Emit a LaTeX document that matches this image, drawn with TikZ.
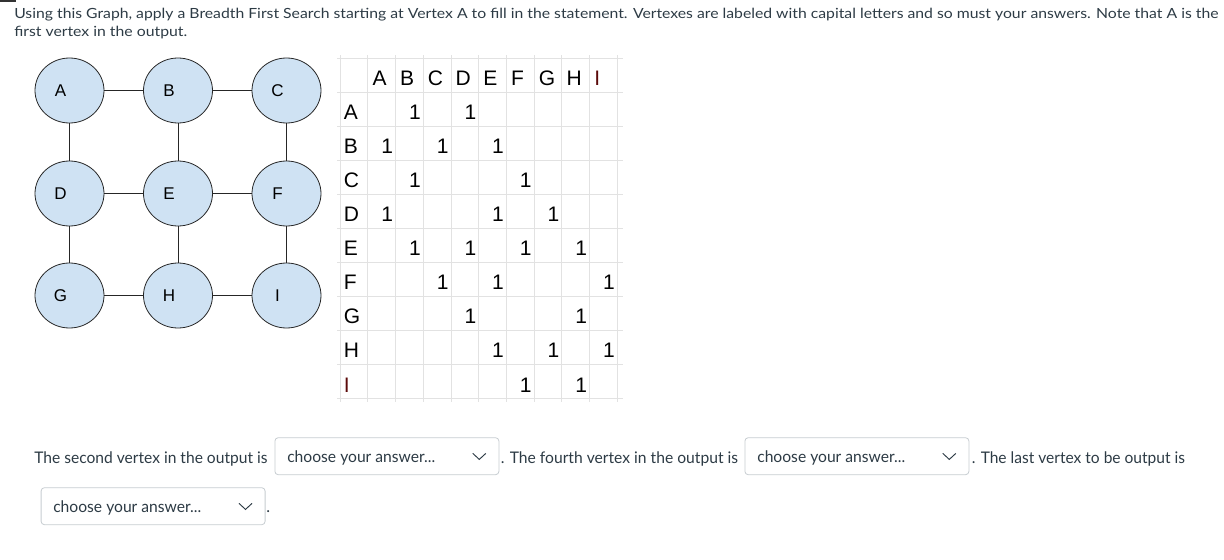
\documentclass[tikz,border=0pt]{standalone}
\usepackage{fontspec}
\setmainfont{Lato}
\newfontfamily\arial{Liberation Sans}
\usetikzlibrary{shapes.geometric}
\definecolor{txt}{HTML}{2D3B45}
\definecolor{nodefill}{HTML}{CFE2F3}
\definecolor{gridc}{HTML}{E2E2E2}
\definecolor{boxc}{HTML}{C7CDD1}
\definecolor{idark}{HTML}{5B0A0A}
\newcommand{\fitw}[2]{\resizebox{#1}{\height}{#2}}
\begin{document}
\begin{tikzpicture}[x=0.75pt,y=-0.75pt,
  vert/.style={ellipse, draw=black!85, line width=0.6pt, fill=nodefill,
    minimum width=51.75pt, minimum height=48.75pt, inner sep=0pt},
  vlab/.style={font=\arial\fontsize{12.75pt}{13pt}\selectfont, xshift=-6.75pt},
  edge/.style={draw=black!85, line width=0.6pt},
  gridline/.style={draw=gridc, line width=0.6pt},
  mtx/.style={font=\arial\fontsize{15.75pt}{16pt}\selectfont, inner sep=0pt, text=black},
  toptext/.style={font=\fontsize{10.5pt}{12pt}\selectfont, text=txt, inner sep=0pt, anchor=base west},
  bottext/.style={font=\fontsize{12pt}{14pt}\selectfont, text=txt, inner sep=0pt, anchor=base west},
  ddbox/.style={draw=boxc, line width=0.6pt, rounded corners=2.5pt, fill=white,
    minimum width=168pt, minimum height=27.75pt, inner sep=0pt, anchor=north west},
  chev/.style={draw=txt, line width=0.7pt}
]
\path[use as bounding box] (0,0) rectangle (1224,560);
\fill[black!80] (0,0) rectangle (16,1.7);

% question text
\node[toptext] (q1) at (14,19) {\fitw{903pt}{Using this Graph, apply a Breadth First Search starting at Vertex A to fill in the statement. Vertexes are labeled with capital letters and so must your answers. Note that A is the}};
\node[toptext] (q2) at (14,37) {\fitw{129.75pt}{first vertex in the output.}};

% graph
\node[vert, label={[vlab]center:A}] (A) at (69.5,90.5) {};
\node[vert, label={[vlab]center:B}] (B) at (178,90.5) {};
\node[vert, label={[vlab]center:C}] (C) at (286.5,90.5) {};
\node[vert, label={[vlab]center:D}] (D) at (69.5,193.5) {};
\node[vert, label={[vlab]center:E}] (E) at (178,193.5) {};
\node[vert, label={[vlab]center:F}] (F) at (286.5,193.5) {};
\node[vert, label={[vlab]center:G}] (G) at (69.5,295.5) {};
\node[vert, label={[vlab]center:H}] (H) at (178,295.5) {};
\node[vert, label={[vlab]center:I}] (I) at (286.5,295.5) {};
\foreach \a/\b in {A/B,B/C,D/E,E/F,G/H,H/I,A/D,D/G,B/E,E/H,C/F,F/I}
  \draw[edge] (\a) -- (\b);

% matrix grid
\foreach \j in {0,...,10}
  \draw[gridline] ({340+27.73*\j},55) -- ({340+27.73*\j},402);
\foreach \k in {0,...,10}
  \draw[gridline] (337,{58+34.05*\k}) -- (623,{58+34.05*\k});
% header and row labels
\foreach \l [count=\j] in {A,B,C,D,E,F,G,H,I}{
  \ifnum\j=9 \def\tc{idark}\else\def\tc{black}\fi
  \node[mtx, anchor=base west, text=\tc] (h\j) at ({340+27.73*\j+4.5}, {58+34.05-6.5}) {\l};
  \node[mtx, anchor=base west, text=\tc] (r\j) at (343.5, {58+34.05*(\j+1)-6.5}) {\l};
}
% ones
\foreach \r/\c in {1/2,1/4, 2/1,2/3,2/5, 3/2,3/6, 4/1,4/5,4/7, 5/2,5/4,5/6,5/8,
  6/3,6/5,6/9, 7/4,7/8, 8/5,8/7,8/9, 9/6,9/8}
  \node[mtx, anchor=base east] (m\r-\c) at ({340+27.73*(\c+1)-2.2}, {58+34.05*(\r+1)-6.5}) {1};

% statement with dropdowns
\node[bottext] (s1) at (34,463) {\fitw{175pt}{The second vertex in the output is}};
\node[ddbox] (dd1) at (274.5,437.3) {};
\node[bottext] (t1) at (287,462.5) {\fitw{111pt}{choose your answer...}};
\draw[chev] ([shift={(-26.5,-2.8)}]dd1.east) -- ++(6.5,6) -- ++(6.5,-6);

\node[bottext] (s2) at (500.5,463) {\fitw{178pt}{. The fourth vertex in the output is}};
\node[ddbox] (dd2) at (744.5,437.3) {};
\node[bottext] (t2) at (757,462.5) {\fitw{111pt}{choose your answer...}};
\draw[chev] ([shift={(-26.5,-2.8)}]dd2.east) -- ++(6.5,6) -- ++(6.5,-6);

\node[bottext] (s3) at (971.5,463) {\fitw{160pt}{. The last vertex to be output is}};

\node[ddbox] (dd3) at (40.7,487.3) {};
\node[bottext] (t3) at (53,512) {\fitw{111pt}{choose your answer...}};
\draw[chev] ([shift={(-26.5,-2.8)}]dd3.east) -- ++(6.5,6) -- ++(6.5,-6);
\node[bottext] (s4) at (266,512) {.};
\end{tikzpicture}
\end{document}
